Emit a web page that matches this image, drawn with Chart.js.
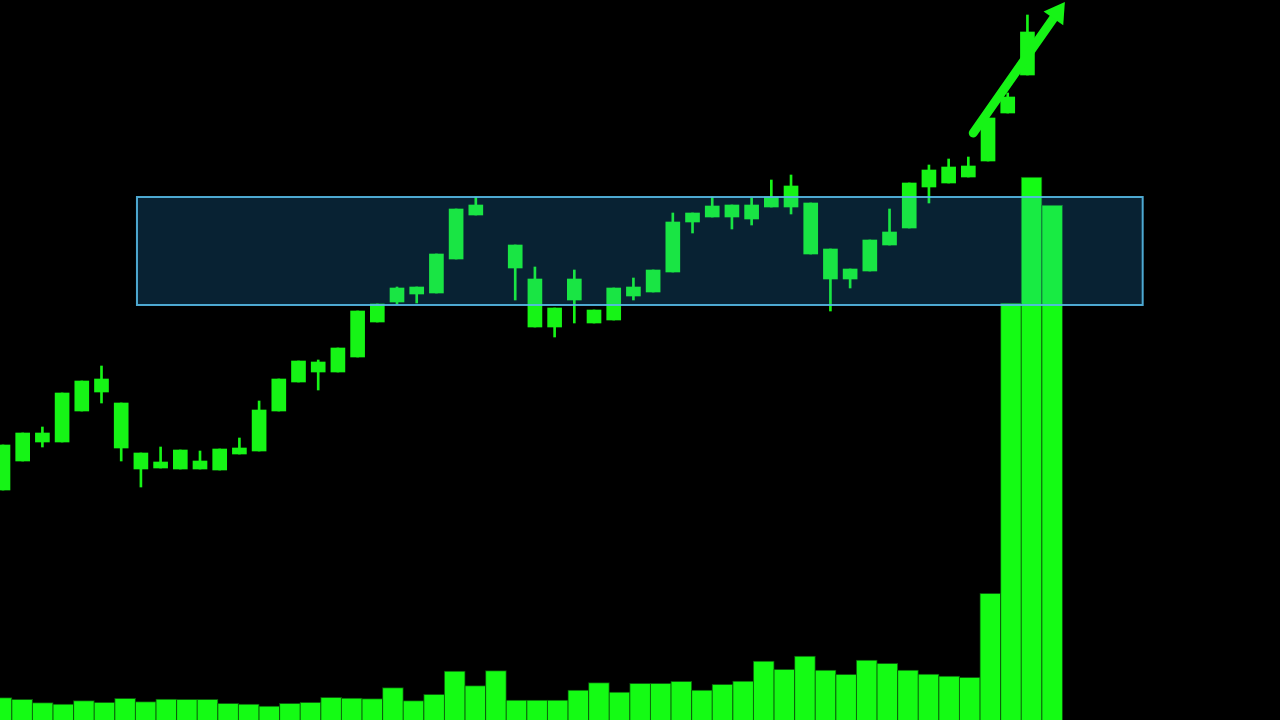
<!DOCTYPE html>
<html>
<head>
<meta charset="utf-8">
<title>Breakout</title>
<script src="https://cdn.jsdelivr.net/npm/chart.js@4.4.1/dist/chart.umd.min.js"></script>
<style>
  html, body { margin: 0; padding: 0; background: #000; overflow: hidden; }
  #grafico { display: block; }
</style>
</head>
<body>
<canvas id="grafico" width="1280" height="720"></canvas>
<script>
// candles (price units), null = no candle in that slot
const candleOpen  = [23.0, 25.9, 27.8, 27.8, 30.9, 32.8, 31.7, 26.7, 25.2, 25.1, 25.1, 25.0, 26.6, 26.9, 30.9, 33.8, 34.8, 34.8, 36.3, 39.8, 41.8, 42.6, 42.7, 46.1, 50.5, null, 47.5, 44.1, 41.2, 42.0, 39.7, 40.0, 42.4, 42.8, 44.8, 49.8, 50.3, 50.3, 50.1, 51.3, 51.3, 51.7, 47.1, 44.1, 44.9, 47.5, 49.2, 53.3, 53.7, 54.3, 55.9, 60.7, 64.5];
const candleClose = [27.5, 28.7, 28.7, 32.7, 33.9, 34.1, 27.2, 25.1, 25.8, 27.0, 25.9, 27.1, 27.2, 31.0, 34.1, 35.9, 35.8, 37.2, 40.9, 41.6, 43.2, 43.3, 46.6, 51.1, 51.5, null, 45.2, 39.3, 39.3, 44.1, 41.0, 43.2, 43.3, 45.0, 49.8, 50.7, 51.4, 51.5, 51.5, 52.3, 53.4, 46.6, 44.1, 45.1, 48.0, 48.8, 53.7, 55.0, 55.3, 55.4, 60.2, 62.3, 68.8];
const candleHigh  = [27.5, 28.7, 29.3, 32.7, 33.9, 35.4, 31.7, 26.7, 27.3, 27.0, 26.9, 27.1, 28.2, 31.9, 34.1, 35.9, 36.0, 37.2, 40.9, 41.6, 43.3, 43.3, 46.6, 51.1, 52.3, null, 47.5, 45.3, 41.2, 45.0, 41.0, 43.2, 44.2, 45.0, 50.7, 50.7, 52.3, 51.5, 52.2, 54.0, 54.5, 51.7, 47.1, 45.1, 48.0, 51.1, 53.7, 55.5, 56.1, 56.3, 60.2, 62.7, 70.5];
const candleLow   = [23.0, 25.9, 27.3, 27.8, 30.9, 31.7, 25.9, 23.3, 25.2, 25.1, 25.1, 25.0, 26.6, 26.9, 30.9, 33.8, 33.0, 34.8, 36.3, 39.8, 41.6, 41.7, 42.7, 46.1, 50.5, null, 42.0, 39.3, 38.3, 39.7, 39.7, 40.0, 42.0, 42.8, 44.8, 48.7, 50.3, 49.1, 49.5, 51.3, 50.6, 46.6, 40.9, 43.2, 44.9, 47.5, 49.2, 51.7, 53.7, 54.3, 55.9, 60.7, 64.5];

// volume (thousands)
const volume = [223, 207, 173, 160, 193, 177, 217, 183, 210, 207, 207, 167, 160, 140, 167, 177, 227, 220, 213, 323, 193, 257, 490, 343, 493, 200, 200, 200, 300, 373, 280, 367, 367, 387, 300, 357, 390, 590, 507, 640, 500, 457, 600, 567, 500, 460, 440, 427, 1267, 4170, 5430, 5150];

// resistance zone (candle index / price) and breakout arrow
const zonaInicio = 6.8, zonaFim = 57.85;
const zonaTopo = 52.3, zonaBase = 41.5;
const setaDe = [49.25, 58.7];
const setaPara = [53.9, 71.8];

const verde = '#16f416';

const corpos = candleOpen.map((o, i) => ({ x: i, y: o === null ? null : [o, candleClose[i]] }));
const pavios = candleLow.map((l, i) => ({ x: i, y: l === null ? null : [l, candleHigh[i]] }));
const barrasVolume = volume.map((v, i) => ({ x: i, y: v }));

const zonaPlugin = {
    id: 'zona',
    afterDatasetsDraw(chart) {
        const { ctx, scales } = chart;
        const xc = scales.xc, y = scales.y;

        // arrow
        const x1 = xc.getPixelForValue(setaDe[0]), y1 = y.getPixelForValue(setaDe[1]);
        const x2 = xc.getPixelForValue(setaPara[0]), y2 = y.getPixelForValue(setaPara[1]);
        const ang = Math.atan2(y2 - y1, x2 - x1);
        const cab = 20;
        const bx = x2 - Math.cos(ang) * cab, by = y2 - Math.sin(ang) * cab;
        ctx.save();
        ctx.strokeStyle = verde;
        ctx.fillStyle = verde;
        ctx.lineWidth = 9;
        ctx.lineCap = 'round';
        ctx.beginPath();
        ctx.moveTo(x1, y1);
        ctx.lineTo(bx, by);
        ctx.stroke();
        ctx.beginPath();
        ctx.moveTo(x2, y2);
        ctx.lineTo(bx + Math.cos(ang + Math.PI / 2) * 12, by + Math.sin(ang + Math.PI / 2) * 12);
        ctx.lineTo(bx + Math.cos(ang - Math.PI / 2) * 12, by + Math.sin(ang - Math.PI / 2) * 12);
        ctx.closePath();
        ctx.fill();

        // zone box
        const left = xc.getPixelForValue(zonaInicio), right = xc.getPixelForValue(zonaFim);
        const top = y.getPixelForValue(zonaTopo), bottom = y.getPixelForValue(zonaBase);
        ctx.fillStyle = 'rgba(40, 170, 255, 0.2)';
        ctx.fillRect(left, top, right - left, bottom - top);
        ctx.strokeStyle = 'rgba(85, 185, 230, 0.9)';
        ctx.lineWidth = 2;
        ctx.strokeRect(left, top, right - left, bottom - top);
        ctx.restore();
    }
};

new Chart(document.getElementById('grafico').getContext('2d'), {
    type: 'bar',
    data: {
        datasets: [
            {
                label: 'Corpo',
                data: corpos,
                xAxisID: 'xc',
                yAxisID: 'y',
                backgroundColor: verde,
                borderWidth: 0,
                barThickness: 14,
                grouped: false
            },
            {
                label: 'Pavio',
                data: pavios,
                xAxisID: 'xc',
                yAxisID: 'y',
                backgroundColor: verde,
                borderWidth: 0,
                barThickness: 2,
                grouped: false
            },
            {
                label: 'Volume',
                data: barrasVolume,
                xAxisID: 'xv',
                yAxisID: 'yv',
                backgroundColor: '#14fc14',
                borderColor: '#0b5c0b',
                borderWidth: 1,
                barThickness: 21,
                grouped: false
            }
        ]
    },
    options: {
        responsive: false,
        animation: false,
        devicePixelRatio: 1,
        layout: { padding: 0 },
        plugins: {
            legend: { display: false },
            tooltip: { enabled: false }
        },
        scales: {
            xc: { type: 'linear', min: -0.152, max: 64.82, offset: false, display: false },
            xv: { type: 'linear', min: -0.073, max: 62.06, offset: false, display: false },
            y: { type: 'linear', min: 0, max: 72, display: false },
            yv: { type: 'linear', min: 0, max: 7200, display: false }
        }
    },
    plugins: [zonaPlugin]
});
</script>
</body>
</html>
